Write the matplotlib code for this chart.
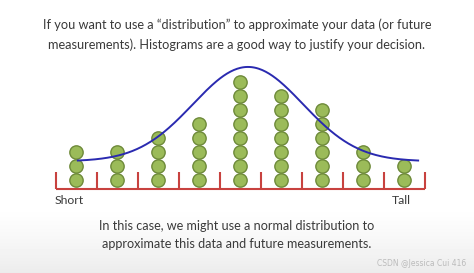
import numpy as np
import matplotlib
matplotlib.use("Agg")
import matplotlib.pyplot as plt

# ---- data ----
bin_positions = [1, 2, 3, 4, 5, 6, 7, 8, 9]
counts = [3, 3, 4, 5, 8, 7, 6, 3, 2]
curve_mean = 5.19
curve_sigma = 1.34
curve_amp = 6.74
curve_base = 1.8
curve_range = (1.04, 9.34)
title_lines = ["If you want to use a \u201cdistribution\u201d to approximate your data (or future",
               "measurements). Histograms are a good way to justify your decision."]
bottom_lines = ["In this case, we might use a normal distribution to",
                "approximate this data and future measurements."]
left_label = "Short"
right_label = "Tall"
watermark = "CSDN @Jessica Cui 416"

W, H = 474, 273
fig = plt.figure(figsize=(W / 100, H / 100), dpi=100)

# background gradient
bg = fig.add_axes([0, 0, 1, 1], zorder=0)
bg.set_axis_off()
rows = np.linspace(0, 1, H)
vals = np.ones(H)
start = 205 / H
mask = rows > start
vals[mask] = 1 - 0.075 * ((rows[mask] - start) / (1 - start)) ** 1.3
img = np.repeat(vals[:, None], 2, axis=1)
bg.imshow(img, cmap="gray", vmin=0, vmax=1, aspect="auto", extent=[0, 1, 1, 0])
bg.set_xlim(0, 1)
bg.set_ylim(1, 0)

ax = fig.add_axes([0, 0, 1, 1], zorder=1)
ax.set_axis_off()
ax.patch.set_alpha(0)
px_w = 41.0
px_h = 14.0
x0_px = 76.2
y0_px = 186.5
ax.set_xlim(1 - x0_px / px_w, 1 + (W - x0_px) / px_w)
ax.set_ylim(-(H - y0_px) / px_h, y0_px / px_h)

red = "#C8423F"
# axis line and ticks
edges = np.arange(len(bin_positions) + 1) + 0.5
ax.plot([edges[0], edges[-1]], [-0.18, -0.18], color=red, lw=1.5, solid_capstyle="butt")
for e in edges:
    ax.plot([e, e], [-0.18, 1.05], color=red, lw=1.5, solid_capstyle="butt")

# stacks of circles
for x, c in zip(bin_positions, counts):
    ys = np.arange(c) + 0.5
    ax.scatter([x] * c, ys, s=92, facecolor="#9BBB59", edgecolor="#6E8A3A",
               linewidths=1.0, zorder=3)

# curve
xx = np.linspace(curve_range[0], curve_range[1], 300)
yy = curve_base + curve_amp * np.exp(-(xx - curve_mean) ** 2 / (2 * curve_sigma ** 2))
ax.plot(xx, yy, color="#2A2AB0", lw=1.4, zorder=4)

font = "Lato"
tc = "#3A3A3A"
for i, line in enumerate(title_lines):
    fig.text(0.5, 1 - (25 + 20 * i) / H, line, ha="center", va="center",
             fontsize=9.2, color=tc, family=font)
for i, line in enumerate(bottom_lines):
    fig.text(0.5, 1 - (226 + 18 * i) / H, line, ha="center", va="center",
             fontsize=9.1, color=tc, family=font)
fig.text(55 / W, 1 - 201 / H, left_label, ha="left", va="center",
         fontsize=8.8, color=tc, family=font)
fig.text(411 / W, 1 - 201 / H, right_label, ha="right", va="center",
         fontsize=8.8, color=tc, family=font)
fig.text(466 / W, 1 - 264 / H, watermark, ha="right", va="center",
         fontsize=5.5, color="#BBBBBB", family="DejaVu Sans")

fig.savefig("out.png", dpi=100)
